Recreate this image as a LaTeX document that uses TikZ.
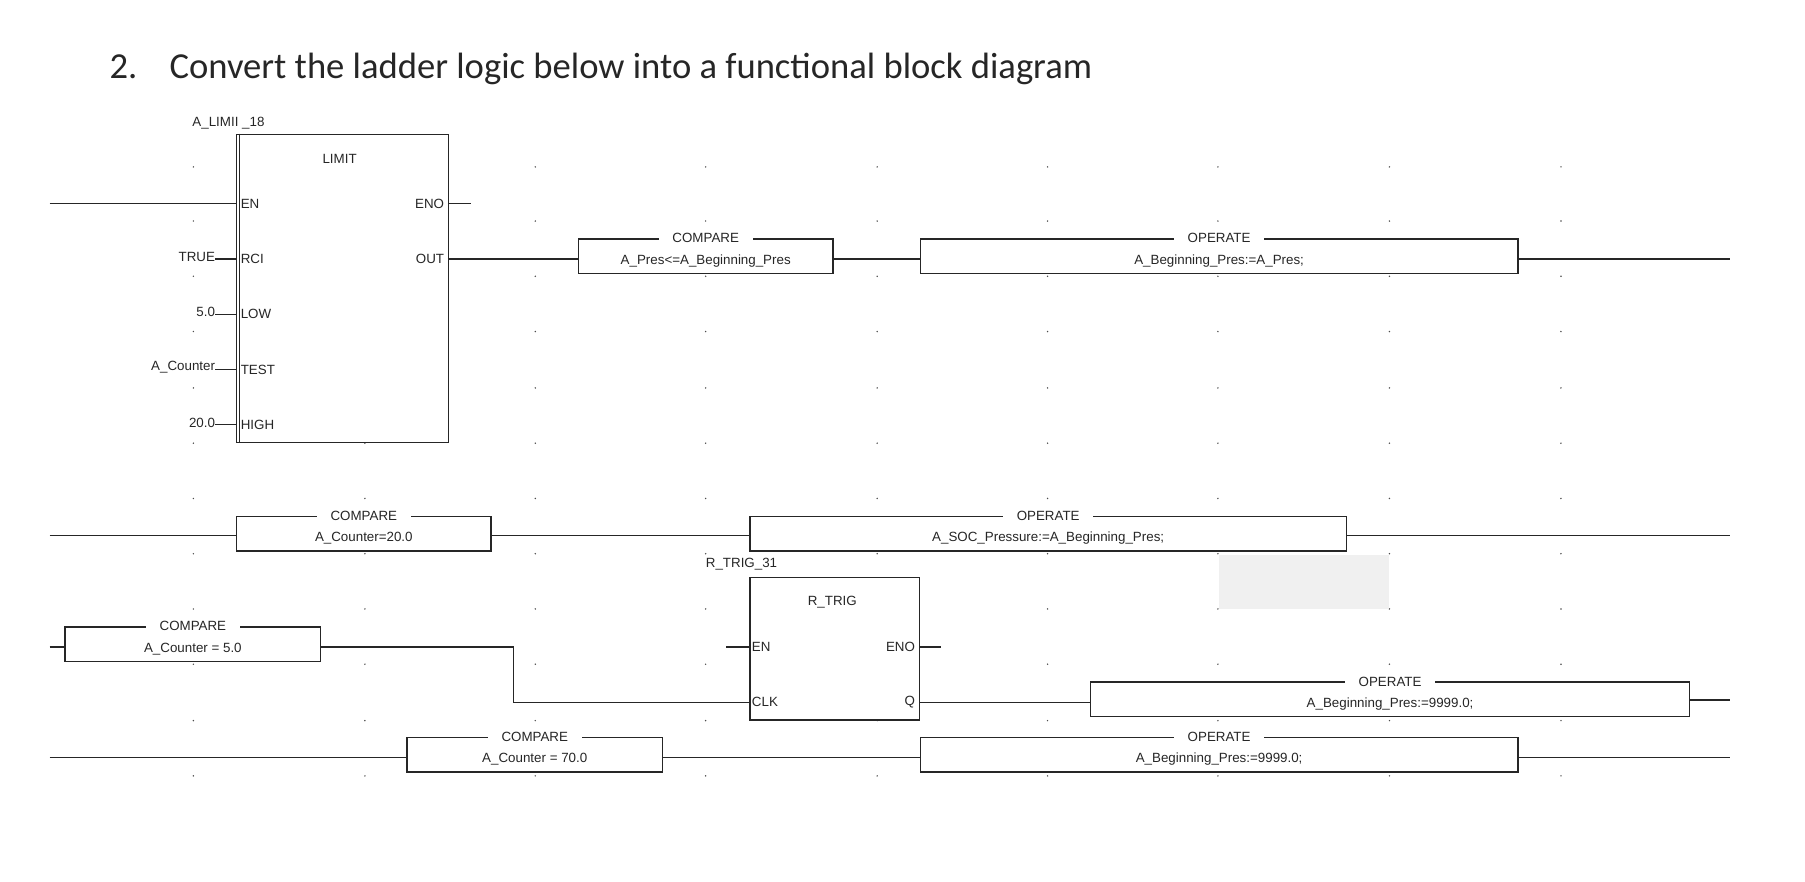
\documentclass[tikz,border=0pt]{standalone}
\usepackage{fontspec}
\setmainfont{Liberation Sans}
\newfontfamily\titlefont{Carlito}
\begin{document}
\begin{tikzpicture}[x=1pt,y=-1pt,
  every node/.style={font=\fontsize{11.6}{13}\selectfont, inner sep=0pt, text=black!85},
  wire/.style={draw=black!85, line width=1.1pt},
  blk/.style={draw=black!85, line width=1.1pt, fill=white, rectangle, anchor=north west},
  ttl/.style={fill=white, inner xsep=12pt, inner ysep=1pt},
  pinl/.style={anchor=west},
  pinr/.style={anchor=east}]
\useasboundingbox (0,0) rectangle (1568,766);
% title
\node[anchor=base west, font=\titlefont\fontsize{31.8}{34}\selectfont] (title) at (95,68) {2.\hspace{28pt}Convert the ladder logic below into a functional block diagram};
% grid dots
\foreach \gx in {168,317,465,613,762,910,1058,1207,1356}
  \foreach \gy in {145,192,240,288,337,385,433,481,529,577,626,674}
    \fill[black!70] (\gx,\gy) circle (0.7pt);
% gray area
\fill[black!6] (1059,482) rectangle (1207,529);
% rail ends
\coordinate (r1a) at (43,177);
\coordinate (r2a) at (43,465);
\coordinate (r3a) at (43,562);
\coordinate (r4a) at (43,658);
\coordinate (r1b) at (1503,225);
\coordinate (r2b) at (1503,465);
\coordinate (r3b) at (1503,608);
\coordinate (r4b) at (1503,658);
\coordinate (eno1) at (409,177);
\coordinate (enin) at (631,562);
\coordinate (eno2) at (817,562);
\coordinate (bend1) at (446,562);
\coordinate (bend2) at (446,610);
% LIMIT block
\node[blk, minimum width=184pt, minimum height=268pt] (lim) at (205,116) {};
\draw[black!85, line width=1pt] (208,116) -- (208,384);
\node[anchor=south west] (limname) at (167,112) {A\_LIMII\ \_18};
\node (limt) at (295,138) {LIMIT};
\coordinate (pEN) at (205,177);
\coordinate (pRCI) at (205,225);
\coordinate (pLOW) at (205,273);
\coordinate (pTEST) at (205,321);
\coordinate (pHIGH) at (205,369);
\coordinate (pENO) at (389,177);
\coordinate (pOUT) at (389,225);
\node[pinl] (tEN) at (209,177) {EN};
\node[pinl] (tRCI) at (209,225) {RCI};
\node[pinl] (tLOW) at (209,273) {LOW};
\node[pinl] (tTEST) at (209,321) {TEST};
\node[pinl] (tHIGH) at (209,369) {HIGH};
\node[pinr] (tENO) at (386,177) {ENO};
\node[pinr] (tOUT) at (386,225) {OUT};
\node[pinr] (vTRUE) at (187,223) {TRUE};
\node[pinr] (v5) at (187,271) {5.0};
\node[pinr] (vAC) at (187,319) {A\_Counter};
\node[pinr] (v20) at (187,367) {20.0};
\draw[wire] (vTRUE.east|-pRCI) -- (pRCI);
\draw[wire] (v5.east|-pLOW) -- (pLOW);
\draw[wire] (vAC.east|-pTEST) -- (pTEST);
\draw[wire] (v20.east|-pHIGH) -- (pHIGH);
\draw[wire] (r1a) -- (pEN);
\draw[wire] (pENO) -- (eno1);
% rung 1
\node[blk, minimum width=221pt, minimum height=30pt] (c1) at (502,207) {};
\node[ttl] at (c1.north) {COMPARE};
\node at ([yshift=-4pt]c1.center) {A\_Pres<=A\_Beginning\_Pres};
\node[blk, minimum width=519pt, minimum height=30pt] (o1) at (799,207) {};
\node[ttl] at (o1.north) {OPERATE};
\node at ([yshift=-4pt]o1.center) {A\_Beginning\_Pres:=A\_Pres;};
\draw[wire] (pOUT) -- (c1.west|-pOUT);
\draw[wire] (c1.east|-pOUT) -- (o1.west|-pOUT);
\draw[wire] (o1.east|-pOUT) -- (r1b);
% rung 2
\node[blk, minimum width=221pt, minimum height=30pt] (c2) at (205,448) {};
\node[ttl] at (c2.north) {COMPARE};
\node at ([yshift=-4pt]c2.center) {A\_Counter=20.0};
\node[blk, minimum width=518pt, minimum height=30pt] (o2) at (651,448) {};
\node[ttl] at (o2.north) {OPERATE};
\node at ([yshift=-4pt]o2.center) {A\_SOC\_Pressure:=A\_Beginning\_Pres;};
\draw[wire] (r2a) -- (c2.west|-r2a);
\draw[wire] (c2.east|-r2a) -- (o2.west|-r2a);
\draw[wire] (o2.east|-r2a) -- (r2b);
% R_TRIG
\node[blk, minimum width=147pt, minimum height=124pt] (rt) at (651,501) {};
\node[anchor=west] (rtname) at (613,490) {R\_TRIG\_31};
\node (rtt) at (723,523) {R\_TRIG};
\node[pinl] (rEN) at (653,562) {EN};
\node[pinl] (rCLK) at (653,610) {CLK};
\node[pinr] (rENO) at (795,562) {ENO};
\node[pinr] (rQ) at (795,610) {Q};
\draw[wire] (enin) -- (rt.west|-enin);
\draw[wire] (rt.east|-eno2) -- (eno2);
% rung 3
\node[blk, minimum width=222pt, minimum height=30pt] (c3) at (56,544) {};
\node[ttl] at (c3.north) {COMPARE};
\node at ([yshift=-4pt]c3.center) {A\_Counter = 5.0};
\draw[wire] (r3a) -- (c3.west|-r3a);
\draw[wire] (c3.east|-r3a) -- (bend1) -- (bend2) -- (rt.west|-bend2);
\node[blk, minimum width=520pt, minimum height=30pt] (o3) at (947,592) {};
\node[ttl] at (o3.north) {OPERATE};
\node at ([yshift=-4pt]o3.center) {A\_Beginning\_Pres:=9999.0;};
\draw[wire] (rt.east|-bend2) -- (o3.west|-bend2);
\draw[wire] (o3.east|-r3b) -- (r3b);
% rung 4
\node[blk, minimum width=222pt, minimum height=30pt] (c4) at (353,640) {};
\node[ttl] at (c4.north) {COMPARE};
\node at ([yshift=-4pt]c4.center) {A\_Counter = 70.0};
\node[blk, minimum width=519pt, minimum height=30pt] (o4) at (799,640) {};
\node[ttl] at (o4.north) {OPERATE};
\node at ([yshift=-4pt]o4.center) {A\_Beginning\_Pres:=9999.0;};
\draw[wire] (r4a) -- (c4.west|-r4a);
\draw[wire] (c4.east|-r4a) -- (o4.west|-r4a);
\draw[wire] (o4.east|-r4a) -- (r4b);
\end{tikzpicture}
\end{document}
